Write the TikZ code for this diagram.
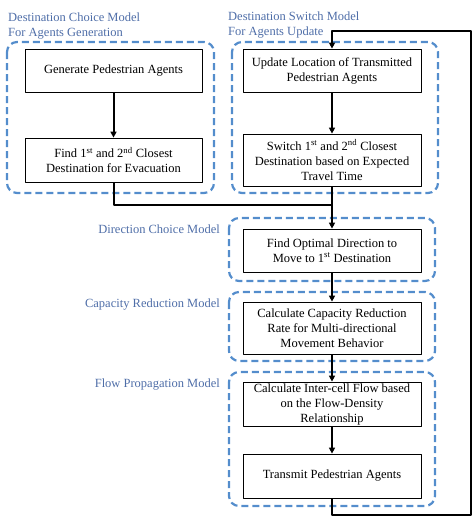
\documentclass[tikz,border=0pt]{standalone}
\usepackage{fontspec}
\setmainfont{Liberation Serif}
\usetikzlibrary{arrows.meta}
\definecolor{dashblue}{RGB}{84,141,204}
\definecolor{titleblue}{RGB}{79,110,168}
\tikzset{
	stepbox/.style={draw, line width=0.8pt, minimum width=178pt, align=center, inner sep=1pt},
	groupbox/.style={draw=dashblue, line width=2.2pt, dash pattern=on 7pt off 4pt, rounded corners=10pt},
	grouptitle/.style={text=titleblue, inner sep=0pt},
	flow/.style={line width=2pt, -{Triangle[length=6pt,width=6pt]}},
	link/.style={line width=2pt}
}
\begin{document}
\begin{tikzpicture}[x=1pt, y=-1pt, font=\fontsize{12.5}{15}\selectfont, line join=round]
		\useasboundingbox (0,0) rectangle (474,528);
		% dashed model groups
		\draw[groupbox] (7,42) rectangle (214,193);
		\draw[groupbox] (232,42) rectangle (438,193);
		\draw[groupbox] (229,218) rectangle (435,281);
		\draw[groupbox] (229,292) rectangle (435,361);
		\draw[groupbox] (229,372) rectangle (435,506);
		% group titles (base = last line)
		\node[grouptitle, anchor=base west, align=left] (tchoice) at (8,36) {Destination Choice Model\\For Agents Generation};
		\node[grouptitle, anchor=base west, align=left] (tswitch) at (228,35) {Destination Switch Model\\For Agents Update};
		\node[grouptitle, anchor=base east] (tdir) at (220,233) {Direction Choice Model};
		\node[grouptitle, anchor=base east] (tcap) at (220,307) {Capacity Reduction Model};
		\node[grouptitle, anchor=base east] (tflow) at (220,387) {Flow Propagation Model};
		% steps
		\node[stepbox, minimum height=43pt, minimum width=177pt] (gen) at (113.5,70.5) {Generate Pedestrian Agents};
		\node[stepbox, minimum height=44pt, minimum width=177pt] (find) at (113.5,160) {Find 1\textsuperscript{st} and 2\textsuperscript{nd} Closest\\Destination for Evacuation};
		\node[stepbox, minimum height=43pt] (upd) at (332,70.5) {Update Location of Transmitted\\Pedestrian Agents};
		\node[stepbox, minimum height=52pt] (sw) at (332,160) {Switch 1\textsuperscript{st} and 2\textsuperscript{nd} Closest\\Destination based on Expected\\Travel Time};
		\node[stepbox, minimum height=43pt] (opt) at (332,250.5) {Find Optimal Direction to\\Move to 1\textsuperscript{st} Destination};
		\node[stepbox, minimum height=52pt] (cap) at (332,328) {Calculate Capacity Reduction\\Rate for Multi-directional\\Movement Behavior};
		\node[stepbox, minimum height=44pt] (inter) at (332,404) {Calculate Inter-cell Flow based\\on the Flow-Density\\Relationship};
		\node[stepbox, minimum height=44pt] (trans) at (332,476) {Transmit Pedestrian Agents};
		% loop corners
		\path (find.south) ++(0,23) coordinate (J)
			(trans.south) ++(0,17) coordinate (L1)
			(471,0) coordinate (R)
			(upd.north) ++(0,-18) coordinate (L4);
		% connectors
		\foreach \a/\b in {gen/find,upd/sw,sw/opt,opt/cap,cap/inter,inter/trans}
			\draw[flow] (\a) -- (\b);
		\draw[link] (find.south) -- (J) -- (J -| opt.north);
		\draw[flow] (trans.south) -- (L1) -- (L1 -| R) -- (L4 -| R) -- (L4) -- (upd.north);
\end{tikzpicture}
\end{document}
